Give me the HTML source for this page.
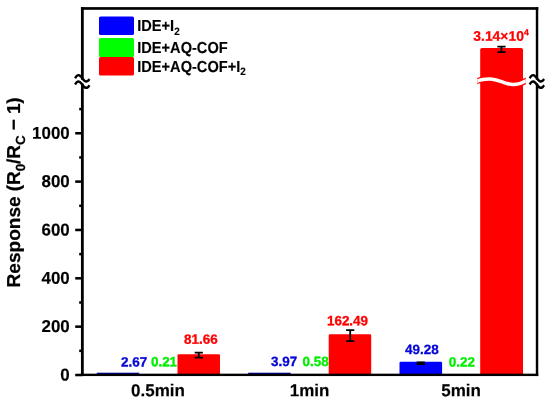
<!DOCTYPE html>
<html lang="en"><head><meta charset="utf-8"><title>Response chart</title>
<style>html,body{margin:0;padding:0;background:#fff;overflow:hidden}svg{display:block}text{font-family:"Liberation Sans", Arial, Helvetica, sans-serif;font-weight:700;text-rendering:geometricPrecision}</style>
</head><body>
<svg width="550" height="404" viewBox="0 0 550 404">
<rect x="0" y="0" width="550" height="404" fill="#ffffff"/>
<rect x="96.8" y="372.7" width="42.4" height="2" fill="#0000a0"/>
<rect x="248.2" y="372.7" width="42.4" height="2" fill="#0000a0"/>
<path d="M399.5,374.86 L399.5,363.1 Q399.5,361.8 400.8,361.8 L440.8,361.8 Q442.1,361.8 442.1,363.1 L442.1,374.86 Z" fill="#0000ff"/>
<path d="M177.5,374.86 L177.5,355.6 Q177.5,354.3 178.8,354.3 L218.7,354.3 Q220.0,354.3 220.0,355.6 L220.0,374.86 Z" fill="#ff0000"/>
<path d="M328.7,374.86 L328.7,335.6 Q328.7,334.3 330.0,334.3 L369.9,334.3 Q371.2,334.3 371.2,335.6 L371.2,374.86 Z" fill="#ff0000"/>
<path d="M480.2,374.86 L480.2,49.8 Q480.2,48.0 482.0,48.0 L521.2,48.0 Q523.0,48.0 523.0,49.8 L523.0,374.86 Z" fill="#ff0000"/>
<clipPath id="wc"><rect x="477.3" y="70" width="48.5" height="24"/></clipPath>
<g clip-path="url(#wc)"><path d="M473.50,82.60 C474.13,82.33 475.72,81.52 477.30,81.00 C478.88,80.48 480.92,79.83 483.00,79.50 C485.08,79.17 487.63,78.92 489.80,79.00 C491.97,79.08 494.05,79.55 496.00,80.00 C497.95,80.45 499.67,81.12 501.50,81.70 C503.33,82.28 505.07,83.05 507.00,83.50 C508.93,83.95 511.02,84.38 513.10,84.40 C515.18,84.42 517.42,84.15 519.50,83.60 C521.58,83.05 523.93,81.83 525.60,81.10 C527.27,80.37 528.85,79.52 529.50,79.20" fill="none" stroke="#ff0000" stroke-width="6.0"/>
<path d="M473.50,82.60 C474.13,82.33 475.72,81.52 477.30,81.00 C478.88,80.48 480.92,79.83 483.00,79.50 C485.08,79.17 487.63,78.92 489.80,79.00 C491.97,79.08 494.05,79.55 496.00,80.00 C497.95,80.45 499.67,81.12 501.50,81.70 C503.33,82.28 505.07,83.05 507.00,83.50 C508.93,83.95 511.02,84.38 513.10,84.40 C515.18,84.42 517.42,84.15 519.50,83.60 C521.58,83.05 523.93,81.83 525.60,81.10 C527.27,80.37 528.85,79.52 529.50,79.20" fill="none" stroke="#ffffff" stroke-width="3.5"/></g>
<path d="M194.65,352.7 H202.85 M194.65,357.6 H202.85 M198.75,352.7 V357.6" fill="none" stroke="#000" stroke-width="1.8"/>
<path d="M346.09999999999997,330.2 H354.3 M346.09999999999997,341.2 H354.3 M350.2,330.2 V341.2" fill="none" stroke="#000" stroke-width="1.8"/>
<path d="M416.7,362.3 H424.90000000000003 M416.7,364.1 H424.90000000000003 M420.8,362.3 V364.1" fill="none" stroke="#000" stroke-width="1.8"/>
<path d="M497.4,46.7 H505.6 M497.4,52.2 H505.6 M501.5,46.7 V52.2" fill="none" stroke="#000" stroke-width="1.8"/>
<g fill="#000">
<rect x="80.95" y="7.1" width="2.8" height="72.6"/>
<rect x="80.95" y="83.6" width="2.8" height="292.45"/>
<rect x="535.8" y="7.1" width="2.45" height="72.6"/>
<rect x="535.8" y="83.6" width="2.45" height="292.45"/>
<rect x="80.95" y="7.12" width="457.3" height="2.68"/>
<rect x="80.95" y="373.66" width="457.3" height="2.4"/>
</g>
<g stroke="#000" stroke-width="2.55">
<path d="M75.2,375.01 H82"/>
<path d="M75.2,326.66 H82"/>
<path d="M75.2,278.31 H82"/>
<path d="M75.2,229.96 H82"/>
<path d="M75.2,181.61 H82"/>
<path d="M75.2,133.26 H82"/>
<path d="M79.2,350.83 H82"/>
<path d="M79.2,302.48 H82"/>
<path d="M79.2,254.14 H82"/>
<path d="M79.2,205.78 H82"/>
<path d="M79.2,157.44 H82"/>
<path d="M79.2,109.09 H82"/>
</g>
<g fill="none" stroke="#000" stroke-width="2.4" stroke-linecap="butt">
<path d="M75.05,78.25 C75.30,77.90 75.94,76.67 76.55,76.15 C77.16,75.63 78.02,75.10 78.70,75.15 C79.38,75.20 80.03,75.90 80.65,76.45 C81.28,77.00 81.88,77.78 82.45,78.45 C83.02,79.12 83.49,79.94 84.05,80.45 C84.61,80.96 85.15,81.43 85.80,81.50 C86.45,81.57 87.33,81.28 87.95,80.85 C88.57,80.43 89.24,79.27 89.50,78.95"/>
<path d="M75.05,84.55 C75.30,84.20 75.94,82.97 76.55,82.45 C77.16,81.93 78.02,81.40 78.70,81.45 C79.38,81.50 80.03,82.20 80.65,82.75 C81.28,83.30 81.88,84.08 82.45,84.75 C83.02,85.42 83.49,86.24 84.05,86.75 C84.61,87.26 85.15,87.73 85.80,87.80 C86.45,87.87 87.33,87.58 87.95,87.15 C88.57,86.73 89.24,85.57 89.50,85.25"/>
<path d="M529.65,78.25 C529.90,77.90 530.54,76.67 531.15,76.15 C531.76,75.63 532.62,75.10 533.30,75.15 C533.98,75.20 534.62,75.90 535.25,76.45 C535.88,77.00 536.48,77.78 537.05,78.45 C537.62,79.12 538.09,79.94 538.65,80.45 C539.21,80.96 539.75,81.43 540.40,81.50 C541.05,81.57 541.93,81.28 542.55,80.85 C543.17,80.43 543.84,79.27 544.10,78.95"/>
<path d="M529.65,84.55 C529.90,84.20 530.54,82.97 531.15,82.45 C531.76,81.93 532.62,81.40 533.30,81.45 C533.98,81.50 534.62,82.20 535.25,82.75 C535.88,83.30 536.48,84.08 537.05,84.75 C537.62,85.42 538.09,86.24 538.65,86.75 C539.21,87.26 539.75,87.73 540.40,87.80 C541.05,87.87 541.93,87.58 542.55,87.15 C543.17,86.73 543.84,85.57 544.10,85.25"/>
</g>
<text transform="translate(69.75,380.46) rotate(0.03) scale(0.987,1)" font-size="17.15" text-anchor="end" fill="#000" stroke="#000" stroke-width="0.15">0</text>
<text transform="translate(69.75,332.11) rotate(0.03) scale(0.987,1)" font-size="17.15" text-anchor="end" fill="#000" stroke="#000" stroke-width="0.15">200</text>
<text transform="translate(69.75,283.76) rotate(0.03) scale(0.987,1)" font-size="17.15" text-anchor="end" fill="#000" stroke="#000" stroke-width="0.15">400</text>
<text transform="translate(69.75,235.41) rotate(0.03) scale(0.987,1)" font-size="17.15" text-anchor="end" fill="#000" stroke="#000" stroke-width="0.15">600</text>
<text transform="translate(69.75,187.06) rotate(0.03) scale(0.987,1)" font-size="17.15" text-anchor="end" fill="#000" stroke="#000" stroke-width="0.15">800</text>
<text transform="translate(69.75,138.71) rotate(0.03) scale(0.987,1)" font-size="17.15" text-anchor="end" fill="#000" stroke="#000" stroke-width="0.15">1000</text>
<text transform="translate(158.0,396.3) rotate(0.03) scale(0.983,1)" font-size="17.3" text-anchor="middle" fill="#000" stroke="#000" stroke-width="0.15">0.5min</text>
<text transform="translate(309.6,396.3) rotate(0.03) scale(0.983,1)" font-size="17.3" text-anchor="middle" fill="#000" stroke="#000" stroke-width="0.15">1min</text>
<text transform="translate(461.1,396.3) rotate(0.03) scale(0.983,1)" font-size="17.3" text-anchor="middle" fill="#000" stroke="#000" stroke-width="0.15">5min</text>
<text transform="translate(20.3,287.4) rotate(-90) scale(1.015,1)" font-size="18.75" fill="#000" stroke="#000" stroke-width="0.22">Response <tspan letter-spacing="-0.1">(R<tspan font-size="13.2" dy="4.5">0</tspan><tspan dy="-4.5">/R</tspan><tspan font-size="13.2" dy="4.5">C</tspan><tspan dy="-4.5"> − 1)</tspan></tspan></text>
<text transform="translate(134.1,366.6) rotate(0.03)" font-size="13.45" text-anchor="middle" fill="#0505d6" stroke="#0505d6" stroke-width="0.3">2.67</text>
<text transform="translate(164.0,366.3) rotate(0.03)" font-size="13.45" text-anchor="middle" fill="#00ee00" stroke="#00ee00" stroke-width="0.3">0.21</text>
<text transform="translate(200.9,343.8) rotate(0.03)" font-size="13.45" text-anchor="middle" fill="#ff0000" stroke="#ff0000" stroke-width="0.3">81.66</text>
<text transform="translate(284.2,366.1) rotate(0.03)" font-size="13.45" text-anchor="middle" fill="#0505d6" stroke="#0505d6" stroke-width="0.3">3.97</text>
<text transform="translate(315.6,366.1) rotate(0.03)" font-size="13.45" text-anchor="middle" fill="#00ee00" stroke="#00ee00" stroke-width="0.3">0.58</text>
<text transform="translate(347.5,325.3) rotate(0.03)" font-size="13.45" text-anchor="middle" fill="#ff0000" stroke="#ff0000" stroke-width="0.3">162.49</text>
<text transform="translate(421.9,353.9) rotate(0.03)" font-size="13.45" text-anchor="middle" fill="#0505d6" stroke="#0505d6" stroke-width="0.3">49.28</text>
<text transform="translate(461.9,366.6) rotate(0.03)" font-size="13.45" text-anchor="middle" fill="#00ee00" stroke="#00ee00" stroke-width="0.3">0.22</text>
<text transform="translate(473.3,40.8) rotate(0.03)" font-size="13.9" text-anchor="start" fill="#ff0000" stroke="#ff0000" stroke-width="0.25">3.14×10<tspan font-size="8.8" dy="-5.6">4</tspan></text>
<rect x="99" y="16.5" width="35.0" height="18.5" rx="1.6" ry="1.6" fill="#0000ff"/>
<rect x="99" y="38.0" width="35.0" height="19.2" rx="1.6" ry="1.6" fill="#00ff00"/>
<rect x="99" y="57.0" width="35.0" height="18.6" rx="1.6" ry="1.6" fill="#ff0000"/>
<text transform="translate(137.25,30.9) rotate(0.03) scale(0.921,1)" font-size="15.85" text-anchor="start" fill="#000" stroke="#000" stroke-width="0.15">IDE+I<tspan font-size="10.8" dy="3.7">2</tspan></text>
<text transform="translate(137.25,52.8) rotate(0.03) scale(0.921,1)" font-size="15.85" text-anchor="start" fill="#000" stroke="#000" stroke-width="0.15">IDE+AQ-COF</text>
<text transform="translate(137.25,71.7) rotate(0.03) scale(0.921,1)" font-size="15.85" text-anchor="start" fill="#000" stroke="#000" stroke-width="0.15">IDE+AQ-COF+I<tspan font-size="10.8" dy="3.7">2</tspan></text>
</svg>
</body></html>
